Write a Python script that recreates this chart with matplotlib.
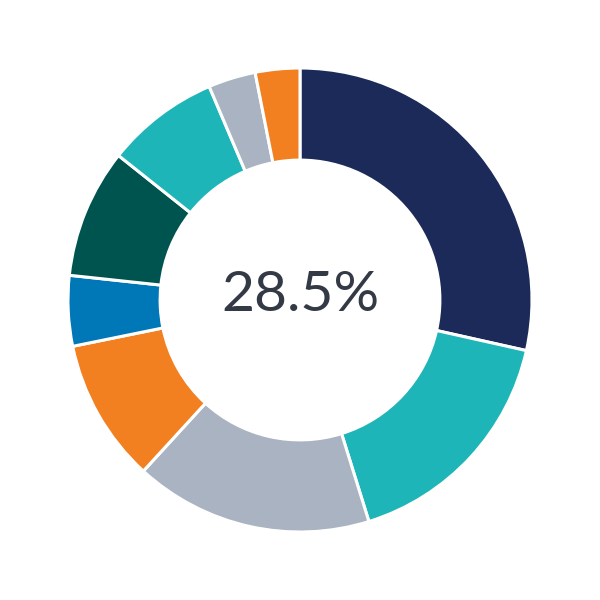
import matplotlib
matplotlib.use("Agg")
import matplotlib.pyplot as plt

labels = ["A", "B", "C", "D", "E", "F", "G", "H", "I"]
values = [28.5, 16.7, 16.6, 10.0, 4.9, 9.0, 7.9, 3.3, 3.1]
colors = ["#1c2a5a", "#1db5b8", "#a9b3c1", "#f28021", "#0077b6",
          "#005450", "#1db5b8", "#a9b3c1", "#f28021"]
center_label = "28.5%"

fig = plt.figure(figsize=(6, 6), dpi=100)
ax = fig.add_axes([0, 0, 1, 1])
ax.pie(values, colors=colors, startangle=90, counterclock=False,
       radius=1.0,
       wedgeprops=dict(width=0.397, edgecolor="white", linewidth=2.2))
lim = 300 / 232
ax.set_xlim(-lim, lim)
ax.set_ylim(-lim, lim)
ax.set_aspect("equal")
ax.axis("off")
ax.text(0, 0.02, center_label, ha="center", va="center", fontsize=41,
        family=["Lato", "DejaVu Sans"], fontweight="normal", color="#333a46")
fig.savefig("out.png", dpi=100, facecolor="white")
